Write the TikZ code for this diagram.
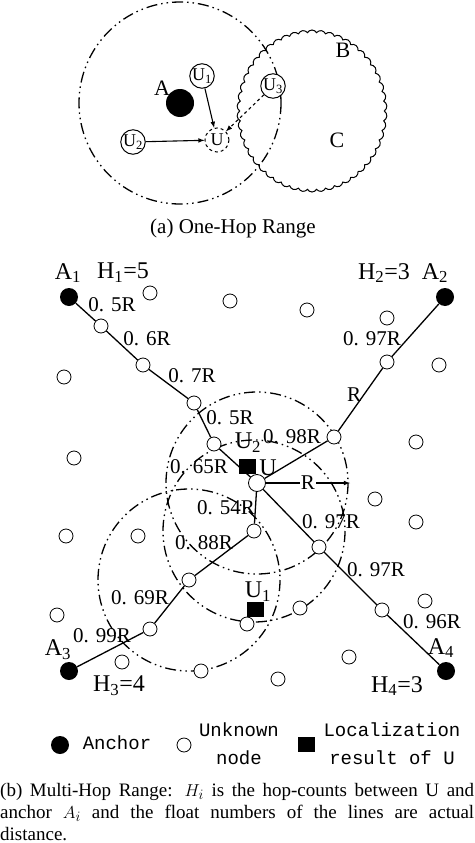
\documentclass[tikz,border=0pt]{standalone}
\usepackage{fontspec}
\setmainfont{Liberation Serif}
\newfontfamily\legendfont{Liberation Mono}
\usetikzlibrary{shapes.symbols}
\tikzset{
  unknown/.style={circle,draw,fill=white,line width=0.8pt,minimum size=14pt,inner sep=0pt},
  anchorpt/.style={circle,fill=black,minimum size=18pt,inner sep=0pt},
  result/.style={rectangle,fill=black,minimum width=17pt,minimum height=15pt,inner sep=0pt},
  hoprange/.style={line width=1.3pt,dash pattern=on 11pt off 4pt on 1.5pt off 4pt on 1.5pt off 4pt},
  hop/.style={line width=1.3pt},
  dist/.style={font=\fontsize{21}{23}\selectfont,inner sep=1pt},
  hlabel/.style={font=\fontsize{24}{26}\selectfont,inner sep=1pt},
  smallnode/.style={circle,draw,fill=white,line width=1pt,minimum size=24pt,inner sep=0pt,font=\fontsize{18}{20}\selectfont},
  cloudy/.style={cloud,draw,line width=1pt,cloud puffs=50,cloud puff arc=120,minimum width=150pt,minimum height=162pt},
}
\begin{document}
\begin{tikzpicture}[x=1pt,y=-1pt,>=latex]
  \useasboundingbox (0,0) rectangle (474,843);
  %% (a) one-hop range
  \draw[hoprange] (180,103) circle [radius=101];
  \node[cloudy] (bc) at (312,111) {};
  \node[anchorpt,minimum size=28pt] (a) at (180,103) {};
  \node[font=\fontsize{22}{24}\selectfont] (la) at (162,88) {A};
  \node[font=\fontsize{22}{24}\selectfont] (lb) at (343,50) {B};
  \node[font=\fontsize{22}{24}\selectfont] (lc) at (337,140) {C};
  \node[smallnode] (u1) at (202,76) {U\textsubscript{1}};
  \node[smallnode] (u2) at (133,142) {U\textsubscript{2}};
  \node[smallnode] (u3) at (273,86) {U\textsubscript{3}};
  \node[smallnode,dashed] (ua) at (217,140) {U};
  \draw[line width=1.1pt,->] (u1) -- (ua);
  \draw[line width=1.1pt,->] (u2) -- (ua);
  \draw[line width=1.1pt,dashed,->] (u3) -- (ua);
  \node[font=\fontsize{21}{24}\selectfont] (capa) at (233,228) {(a) One-Hop Range};
  %% (b) multi-hop range
  \draw[hoprange] (257,483) circle [radius=91];
  \draw[hoprange] (254,531) circle [radius=91];
  \draw[hoprange] (189,580) circle [radius=91];
  %% anchors
  \node[anchorpt] (A1) at (69,297) {};
  \node[anchorpt] (A2) at (445,297) {};
  \node[anchorpt] (A3) at (69,671) {};
  \node[anchorpt] (A4) at (446,671) {};
  \node[hlabel] (lA1) at (68,273) {A\textsubscript{1}};
  \node[hlabel] (lH1) at (123,273) {H\textsubscript{1}=5};
  \node[hlabel] (lH2) at (384,273) {H\textsubscript{2}=3};
  \node[hlabel] (lA2) at (435,273) {A\textsubscript{2}};
  \node[hlabel] (lA3) at (58,650) {A\textsubscript{3}};
  \node[hlabel] (lH3) at (119,686) {H\textsubscript{3}=4};
  \node[hlabel] (lA4) at (441,648) {A\textsubscript{4}};
  \node[hlabel] (lH4) at (397,686) {H\textsubscript{4}=3};
  %% scattered unknown nodes
  \foreach \x/\y [count=\i] in {150/293,230/301,64/377,74/458,66/536,138/536,57/615,
      122/662,201/671,278/679,349/657,300/608,425/601,416/522,375/499,416/442,
      439/365,387/318,307/310,247/624}
    \node[unknown] (s\i) at (\x,\y) {};
  %% unknown node U and hop nodes
  \node[unknown,minimum size=17pt] (u) at (257,483) {};
  \node[unknown] (p1a) at (101,326) {};
  \node[unknown] (p1b) at (143,365) {};
  \node[unknown] (p1c) at (194,403) {};
  \node[unknown] (p1d) at (214,444) {};
  \node[unknown] (p2a) at (387,362) {};
  \node[unknown] (p2b) at (334,437) {};
  \node[unknown] (p3a) at (254,531) {};
  \node[unknown] (p3b) at (189,580) {};
  \node[unknown] (p3c) at (150,629) {};
  \node[unknown] (p4a) at (319,547) {};
  \node[unknown] (p4b) at (382,610) {};
  \draw[hop] (A1) -- (p1a) -- (p1b) -- (p1c) -- (p1d) -- (u);
  \draw[hop] (A2) -- (p2a) -- (p2b) -- (u);
  \draw[hop] (u) -- (p3a) -- (p3b) -- (p3c) -- (A3);
  \draw[hop] (u) -- (p4a) -- (p4b) -- (A4);
  \coordinate (rend) at (350,483);
  \draw[line width=1.1pt,->] (u) -- (rend) node[midway,fill=white,dist] (lr) {R};
  %% distances
  \node[dist] (d1) at (112,305) {0. 5R};
  \node[dist] (d2) at (147,339) {0. 6R};
  \node[dist] (d3) at (192,376) {0. 7R};
  \node[dist] (d4) at (230,418) {0. 5R};
  \node[dist] (d5) at (372,339) {0. 97R};
  \node[dist] (d6) at (354,395) {R};
  \node[dist] (d7) at (292,437) {0. 98R};
  \node[dist] (d8) at (199,467) {0. 65R};
  \node[dist] (d9) at (226,508) {0. 54R};
  \node[dist] (d10) at (204,543) {0. 88R};
  \node[dist] (d11) at (140,598) {0. 69R};
  \node[dist] (d12) at (102,636) {0. 99R};
  \node[dist] (d13) at (331,522) {0. 97R};
  \node[dist] (d14) at (376,570) {0. 97R};
  \node[dist] (d15) at (432,622) {0. 96R};
  %% localization results
  \node[result] (r2) at (247,466) {};
  \node[hlabel] (lu2) at (248,443) {U\textsubscript{2}};
  \node[hlabel] (lu) at (268,468) {U};
  \node[result] (r1) at (255,609) {};
  \node[hlabel] (lu1) at (258,592) {U\textsubscript{1}};
  %% legend
  \node[anchorpt] (ka) at (60,745) {};
  \node[font=\legendfont\fontsize{19}{28}\selectfont] (kat) at (117,743) {Anchor};
  \node[unknown] (ku) at (184,745) {};
  \node[font=\legendfont\fontsize{19}{28}\selectfont,align=center] (kut) at (239,744) {Unknown\\node};
  \node[result] (kr) at (306,744) {};
  \node[font=\legendfont\fontsize{19}{28}\selectfont,align=center] (krt) at (392,744) {Localization\\result of U};
  %% caption
  \node[anchor=north west,inner sep=0pt,text width=474pt,align=justify,
        font=\fontsize{19}{22}\selectfont] (capb) at (0,783)
    {(b) Multi-Hop Range: $H_i$ is the hop-counts between U and\linebreak
     anchor $A_i$ and the float numbers of the lines are actual\linebreak
     distance.};
\end{tikzpicture}
\end{document}
